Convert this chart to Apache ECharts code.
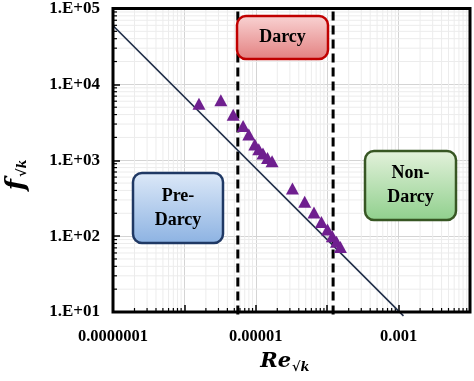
<!DOCTYPE html>
<html><head><meta charset="utf-8">
<script src="https://cdn.jsdelivr.net/npm/echarts@6/dist/echarts.min.js"></script>
<style>html,body{margin:0;padding:0;background:#fff}#c{width:474px;height:381px}</style>
</head><body><div id="c"></div>
<script>
// ---- data ----
const reX = [1.60e-6, 3.24e-6, 4.82e-6, 6.64e-6, 7.98e-6, 9.68e-6, 1.10e-5, 1.26e-5, 1.46e-5, 1.69e-5,
             3.26e-5, 4.84e-5, 6.53e-5, 8.30e-5, 1.01e-4, 1.18e-4, 1.35e-4, 1.53e-4];
const fY  = [5570, 6160, 3990, 2825, 2180, 1610, 1396, 1225, 1072, 970,
             425, 283, 205, 154, 122, 100, 84, 72];
const fitX = [8.5e-8, 1.17e-3];
const fitY = [6.95e4, 8.9];
const boundaryX = [5.6e-6, 1.21e-4];
const boundaryY = [9.3, 1e5];
const xTickLabels = ['0.0000001', '0.00001', '0.001'];
const yTickLabels = ['1.E+01', '1.E+02', '1.E+03', '1.E+04', '1.E+05'];
const regionLabels = ['Darcy', 'Pre-\nDarcy', 'Non-\nDarcy'];

// minor grid positions (2..9 x 10^n)
const xMinor = [], yMinor = [];
for (let e = -7; e <= -3; e++) for (let m = 2; m <= 9; m++) xMinor.push(m * Math.pow(10, e));
for (let e = 1; e <= 4; e++) for (let m = 2; m <= 9; m++) yMinor.push(m * Math.pow(10, e));

const FONT = '"Liberation Serif", "Times New Roman", serif';
const chart = echarts.init(document.getElementById('c'), null, {renderer: 'canvas'});

function grad(top, bottom) {
  return {type: 'linear', x: 0, y: 0, x2: 0, y2: 1, colorStops: [{offset: 0, color: top}, {offset: 1, color: bottom}]};
}
function box(x, y, w, h, fillTop, fillBot, stroke, label) {
  return [
    {type: 'rect', z: 20, shape: {x: x, y: y, width: w, height: h, r: 9},
     style: {fill: grad(fillTop, fillBot), stroke: stroke, lineWidth: 2.5}},
    {type: 'text', z: 21, x: x + w / 2, y: y + h / 2,
     style: {text: label, font: 'bold 18px ' + FONT, fill: '#000', align: 'center', verticalAlign: 'middle',
             textAlign: 'center', textVerticalAlign: 'middle', lineHeight: 24}}
  ];
}

const boundarySeries = boundaryX.map(x => ({
  type: 'line', z: 3, clip: false, silent: true, showSymbol: false, symbol: 'none',
  data: boundaryY.map(y => [x, y]),
  lineStyle: {color: '#000', width: 3, type: [9, 5]}
}));

const option = {
  animation: false,
  backgroundColor: '#fff',
  grid: {left: 113, right: 4, top: 7, bottom: 69, show: true, borderColor: '#000', borderWidth: 3, backgroundColor: 'transparent', z: 5},
  xAxis: {
    type: 'log', logBase: 10, min: 1e-7, max: 1e-2,
    axisLine: {show: false},
    axisTick: {show: true, inside: true, length: 7, lineStyle: {color: '#000', width: 1.5}},
    axisLabel: {
      margin: 16, color: '#000', fontFamily: FONT, fontWeight: 'bold', fontSize: 16.5,
      formatter: function (v) {
        const e = Math.round(Math.log10(v));
        const idx = (e + 7) / 2;
        return (Number.isInteger(idx) && idx >= 0 && idx < xTickLabels.length) ? xTickLabels[idx] : '';
      }
    },
    splitLine: {show: true, lineStyle: {color: '#d4d4d4', width: 1}}
  },
  yAxis: {
    type: 'log', logBase: 10, min: 10, max: 1e5,
    axisLine: {show: false},
    axisTick: {show: true, inside: true, length: 7, lineStyle: {color: '#000', width: 1.5}},
    axisLabel: {
      margin: 13, color: '#000', fontFamily: FONT, fontWeight: 'bold', fontSize: 17,
      formatter: function (v) {
        const e = Math.round(Math.log10(v));
        return yTickLabels[e - 1] || '';
      }
    },
    splitLine: {show: true, lineStyle: {color: '#d4d4d4', width: 1}}
  },
  series: [
    { // minor vertical gridlines + ticks
      type: 'custom', silent: true, z: 1,
      data: xMinor.map(v => [v, 100]),
      renderItem: function (params, api) {
        const p = api.coord([api.value(0), 100]);
        const cs = params.coordSys;
        return {type: 'group', children: [
          {type: 'line', shape: {x1: p[0], y1: cs.y, x2: p[0], y2: cs.y + cs.height}, style: {stroke: '#ececec', lineWidth: 1}},
          {type: 'line', z2: 5, shape: {x1: p[0], y1: cs.y + cs.height, x2: p[0], y2: cs.y + cs.height - 4}, style: {stroke: '#000', lineWidth: 1.2}}
        ]};
      }
    },
    { // minor horizontal gridlines + ticks
      type: 'custom', silent: true, z: 1,
      data: yMinor.map(v => [1e-5, v]),
      renderItem: function (params, api) {
        const p = api.coord([1e-5, api.value(1)]);
        const cs = params.coordSys;
        return {type: 'group', children: [
          {type: 'line', shape: {x1: cs.x, y1: p[1], x2: cs.x + cs.width, y2: p[1]}, style: {stroke: '#ececec', lineWidth: 1}},
          {type: 'line', z2: 5, shape: {x1: cs.x, y1: p[1], x2: cs.x + 4, y2: p[1]}, style: {stroke: '#000', lineWidth: 1.2}}
        ]};
      },
      encode: {x: 0, y: 1}
    },
    ...boundarySeries,
    {
      type: 'line', name: 'fit', z: 3, clip: false, silent: true,
      data: fitX.map((x, i) => [x, fitY[i]]),
      showSymbol: false, symbol: 'none',
      lineStyle: {color: '#22304a', width: 1.6}
    },
    {
      type: 'scatter', name: 'data', z: 4,
      data: reX.map((x, i) => [x, fY[i]]),
      symbol: 'triangle', symbolSize: [13, 12],
      itemStyle: {color: '#6f1f8f', opacity: 1}
    }
  ],
  graphic: [
    ...box(237, 16, 91, 43, '#f9d4d4', '#e37f7f', '#c00000', regionLabels[0]),
    ...box(133, 173, 90, 70, '#dde9f8', '#8cb2e2', '#1f3864', regionLabels[1]),
    ...box(365, 151, 91, 69, '#e4f2dc', '#8fcf8c', '#375623', regionLabels[2]),
    {type: 'text', z: 30, x: 291, y: 362,
     style: {text: 'Re', font: 'italic bold 21px "DejaVu Serif", serif', fill: '#000', align: 'right', verticalAlign: 'middle', textAlign: 'right', textVerticalAlign: 'middle'}},
    {type: 'text', z: 30, x: 292, y: 368,
     style: {text: '√k', font: 'italic bold 13px "DejaVu Serif", serif', fill: '#000', align: 'left', verticalAlign: 'middle', textAlign: 'left', textVerticalAlign: 'middle'}},
    {type: 'group', z: 30, x: 17, y: 187, rotation: Math.PI / 2, children: [
      {type: 'text', x: 8, y: 0,
       style: {text: 'f', font: 'italic bold 26px "DejaVu Serif", serif', fill: '#000', align: 'right', verticalAlign: 'middle', textAlign: 'right', textVerticalAlign: 'middle'}},
      {type: 'text', x: 10, y: 6,
       style: {text: '√k', font: 'italic bold 13px "DejaVu Serif", serif', fill: '#000', align: 'left', verticalAlign: 'middle', textAlign: 'left', textVerticalAlign: 'middle'}}
    ]}
  ]
};
chart.setOption(option);
</script>
</body></html>
